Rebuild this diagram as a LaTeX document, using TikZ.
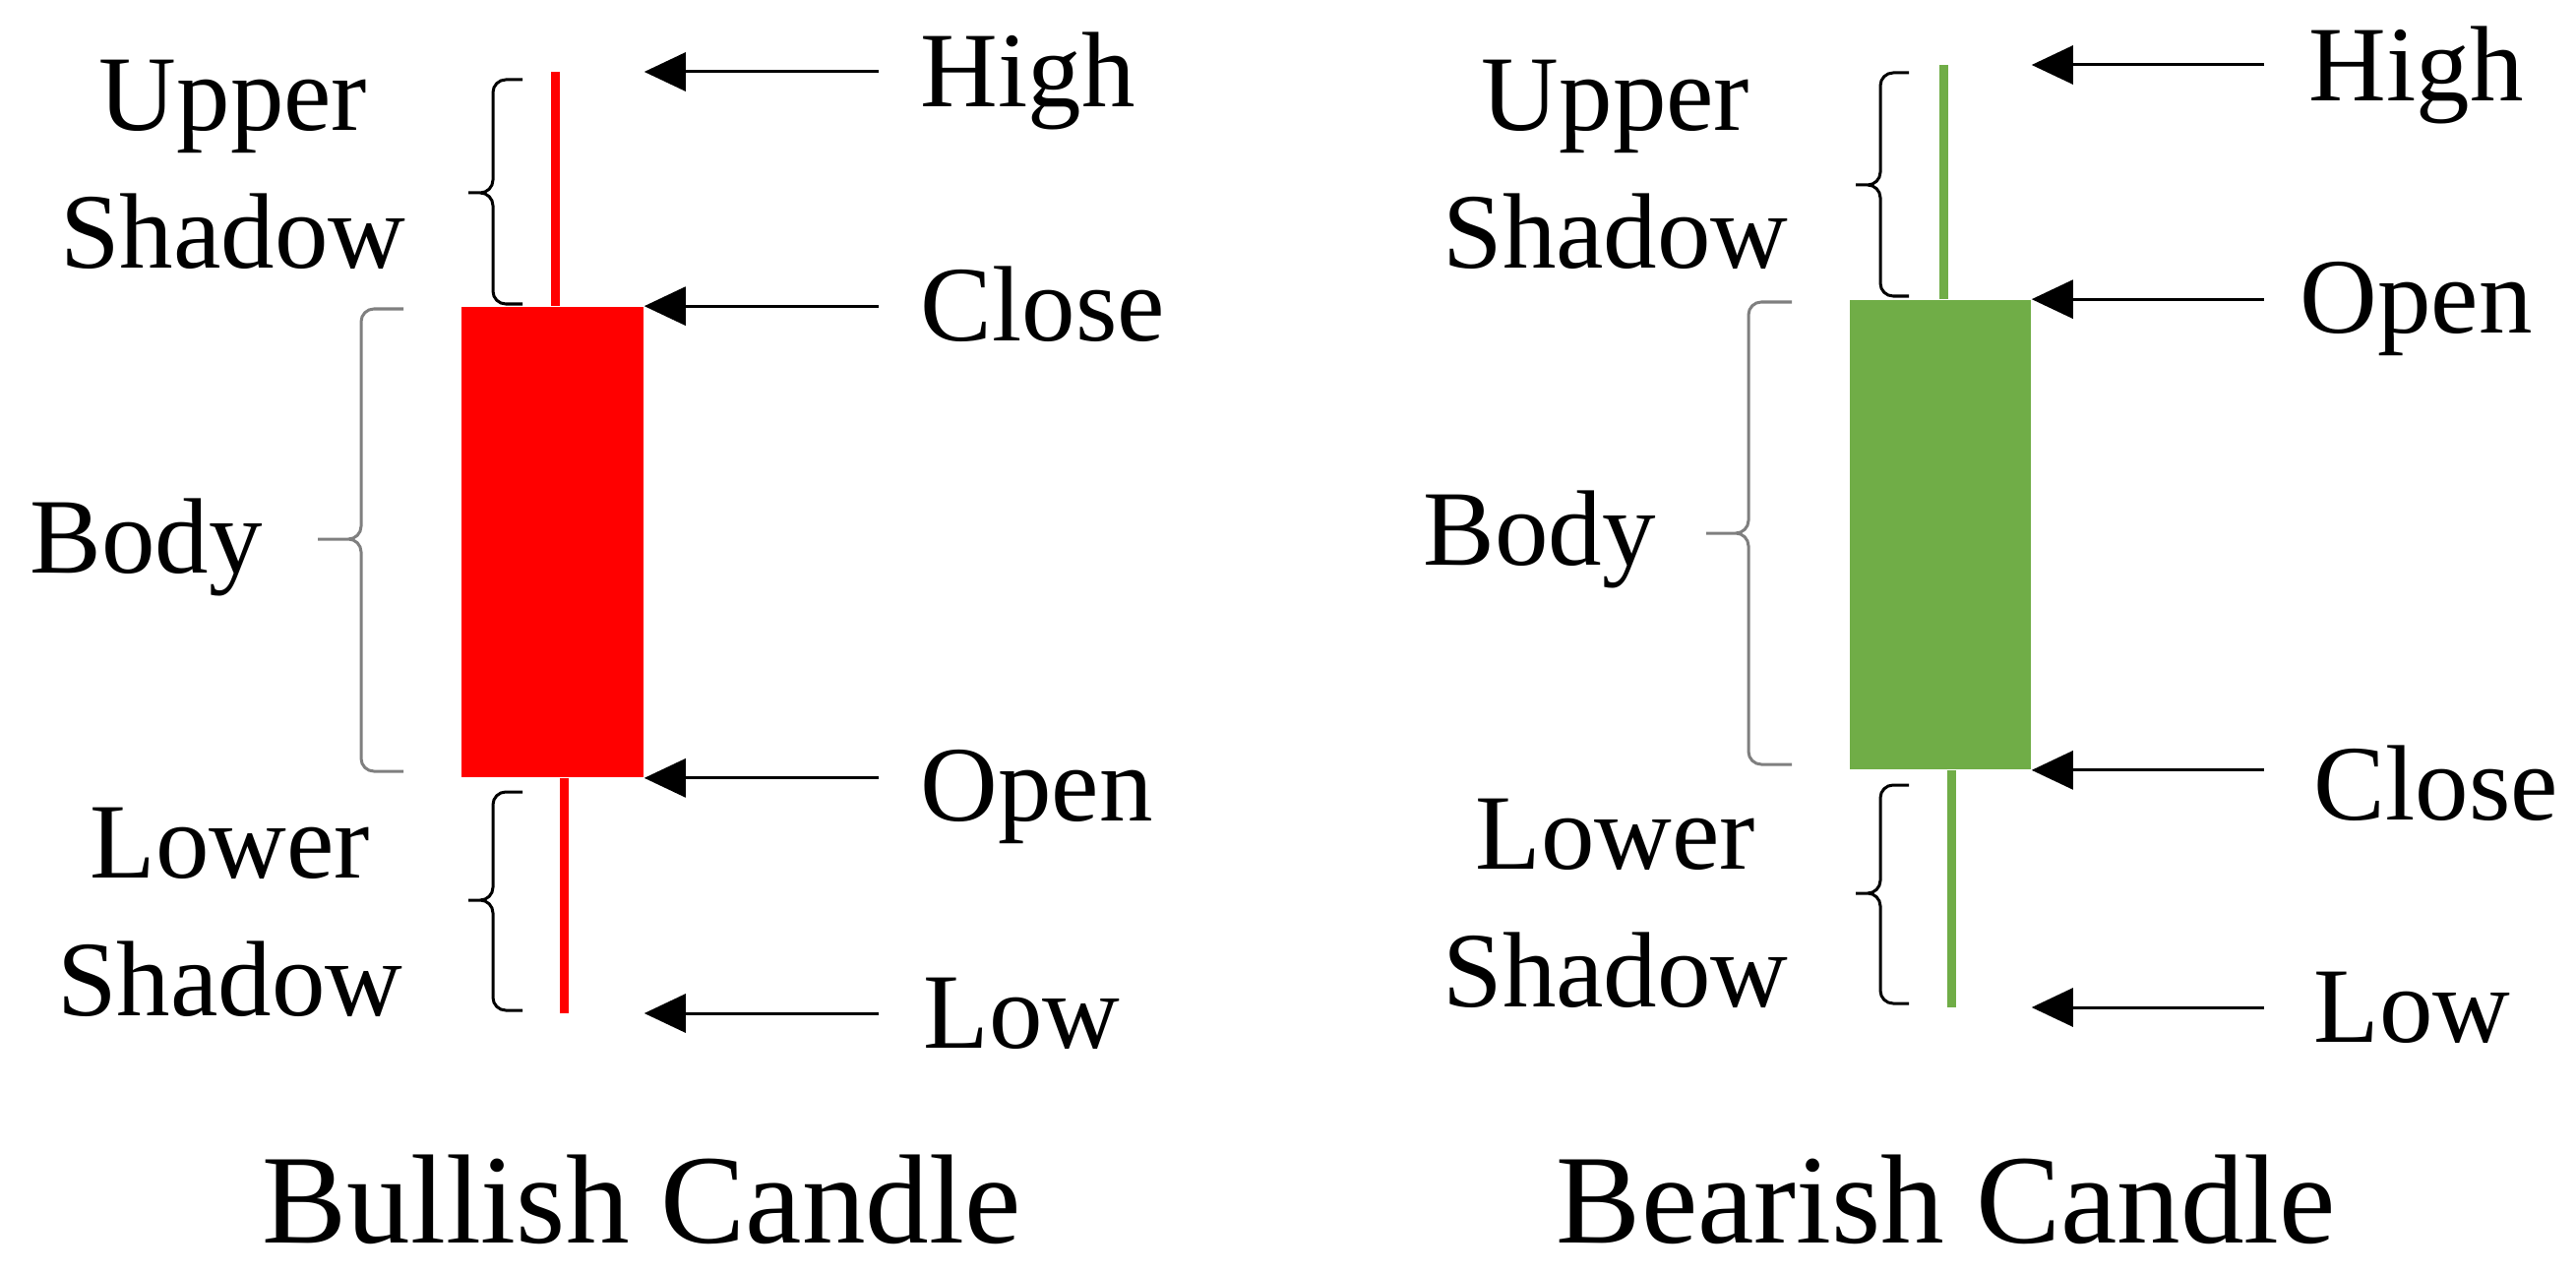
\documentclass[tikz,border=0pt]{standalone}
\usepackage{fontspec}
\setmainfont{Liberation Serif}
\usetikzlibrary{positioning}
\usetikzlibrary{arrows.meta}

\definecolor{bullred}{HTML}{FF0000}
\definecolor{beargreen}{HTML}{70AD47}
\definecolor{bracegray}{HTML}{7F7F7F}

\tikzset{
    pointer/.style={draw=black, line width=0.03cm, -{Triangle[length=0.42cm, width=0.39cm]}},
    wick/.style={line width=0.09cm},
    shadowbrace/.style={draw=black, line width=0.03cm, rounded corners=0.13cm},
    bodybrace/.style={draw=bracegray, line width=0.03cm, rounded corners=0.13cm},
    pricetext/.style={anchor=base west, inner sep=0pt, font=\fontsize{31pt}{40pt}\selectfont},
    parttext/.style={anchor=base, inner sep=0pt, align=center, font=\fontsize{31pt}{39.8pt}\selectfont},
    captiontext/.style={anchor=base, inner sep=0pt, font=\fontsize{36.7pt}{44pt}\selectfont}
}

\begin{document}
\begin{tikzpicture}[x=0.01cm, y=-0.01cm]
    \useasboundingbox (0,0) rectangle (2618,1294);

    \node (bullbody) [rectangle, minimum width=1.85cm, minimum height=4.78cm, inner sep=0pt, fill=bullred] at (561.5,551) {};
    \coordinate (bullhigh) at (564,73);
    \coordinate (bulllow) at (573,1030);
    \coordinate (bulltail) at (893,0);
    \draw[wick, bullred] (bullhigh) -- (bullhigh |- bullbody.north);
    \draw[wick, bullred] (bulllow |- bullbody.south) -- (bulllow);

    \draw[pointer] (bullhigh -| bulltail) -- (bullhigh -| bullbody.east);
    \draw[pointer] (bullbody.north east -| bulltail) -- (bullbody.north east);
    \draw[pointer] (bullbody.south east -| bulltail) -- (bullbody.south east);
    \draw[pointer] (bulllow -| bulltail) -- (bulllow -| bullbody.east);

    \node (bullhightxt) [pricetext] at (935,109) {High};
    \node (bullclosetxt) [pricetext] at (935,347) {Close};
    \node (bullopentxt) [pricetext] at (935,834) {Open};
    \node (bulllowtxt) [pricetext] at (938,1065) {Low};

    \node (bullupper) [parttext] at (237,272) {Upper\\Shadow};
    \node (bullbodytxt) [parttext, anchor=base west] at (30,582) {Body};
    \node (bulllower) [parttext] at (234,1032) {Lower\\Shadow};

    \draw[shadowbrace] (531,81) -- (501,81) -- (501,196) -- (476,196) (476,196) -- (501,196) -- (501,309) -- (531,309);
    \draw[bodybrace] (410,314) -- (367,314) -- (367,548) -- (323,548) (323,548) -- (367,548) -- (367,784) -- (410,784);
    \draw[shadowbrace] (531,805) -- (501,805) -- (501,915) -- (476,915) (476,915) -- (501,915) -- (501,1027) -- (531,1027);

    \node (bullcaption) [captiontext] at (652,1263) {Bullish Candle};

    \node (bearbody) [rectangle, minimum width=1.84cm, minimum height=4.77cm, inner sep=0pt, fill=beargreen] at (1972,543.5) {};
    \coordinate (bearhigh) at (1975,66);
    \coordinate (bearlow) at (1983,1024);
    \coordinate (beartail) at (2301,0);
    \draw[wick, beargreen] (bearhigh) -- (bearhigh |- bearbody.north);
    \draw[wick, beargreen] (bearlow |- bearbody.south) -- (bearlow);

    \draw[pointer] (bearhigh -| beartail) -- (bearhigh -| bearbody.east);
    \draw[pointer] (bearbody.north east -| beartail) -- (bearbody.north east);
    \draw[pointer] (bearbody.south east -| beartail) -- (bearbody.south east);
    \draw[pointer] (bearlow -| beartail) -- (bearlow -| bearbody.east);

    \node (bearhightxt) [pricetext] at (2346,103) {High};
    \node (bearopentxt) [pricetext] at (2337,338) {Open};
    \node (bearclosetxt) [pricetext] at (2351,833) {Close};
    \node (bearlowtxt) [pricetext] at (2351,1059) {Low};

    \node (bearupper) [parttext] at (1642,272) {Upper\\Shadow};
    \node (bearbodytxt) [parttext, anchor=base west] at (1446,574) {Body};
    \node (bearlower) [parttext] at (1642,1023) {Lower\\Shadow};

    \draw[shadowbrace] (1940,74) -- (1911,74) -- (1911,188) -- (1886,188) (1886,188) -- (1911,188) -- (1911,301) -- (1940,301);
    \draw[bodybrace] (1821,307) -- (1777,307) -- (1777,542) -- (1734,542) (1734,542) -- (1777,542) -- (1777,777) -- (1821,777);
    \draw[shadowbrace] (1940,798) -- (1911,798) -- (1911,908) -- (1886,908) (1886,908) -- (1911,908) -- (1911,1020) -- (1940,1020);

    \node (bearcaption) [captiontext] at (1978,1263) {Bearish Candle};
\end{tikzpicture}
\end{document}
